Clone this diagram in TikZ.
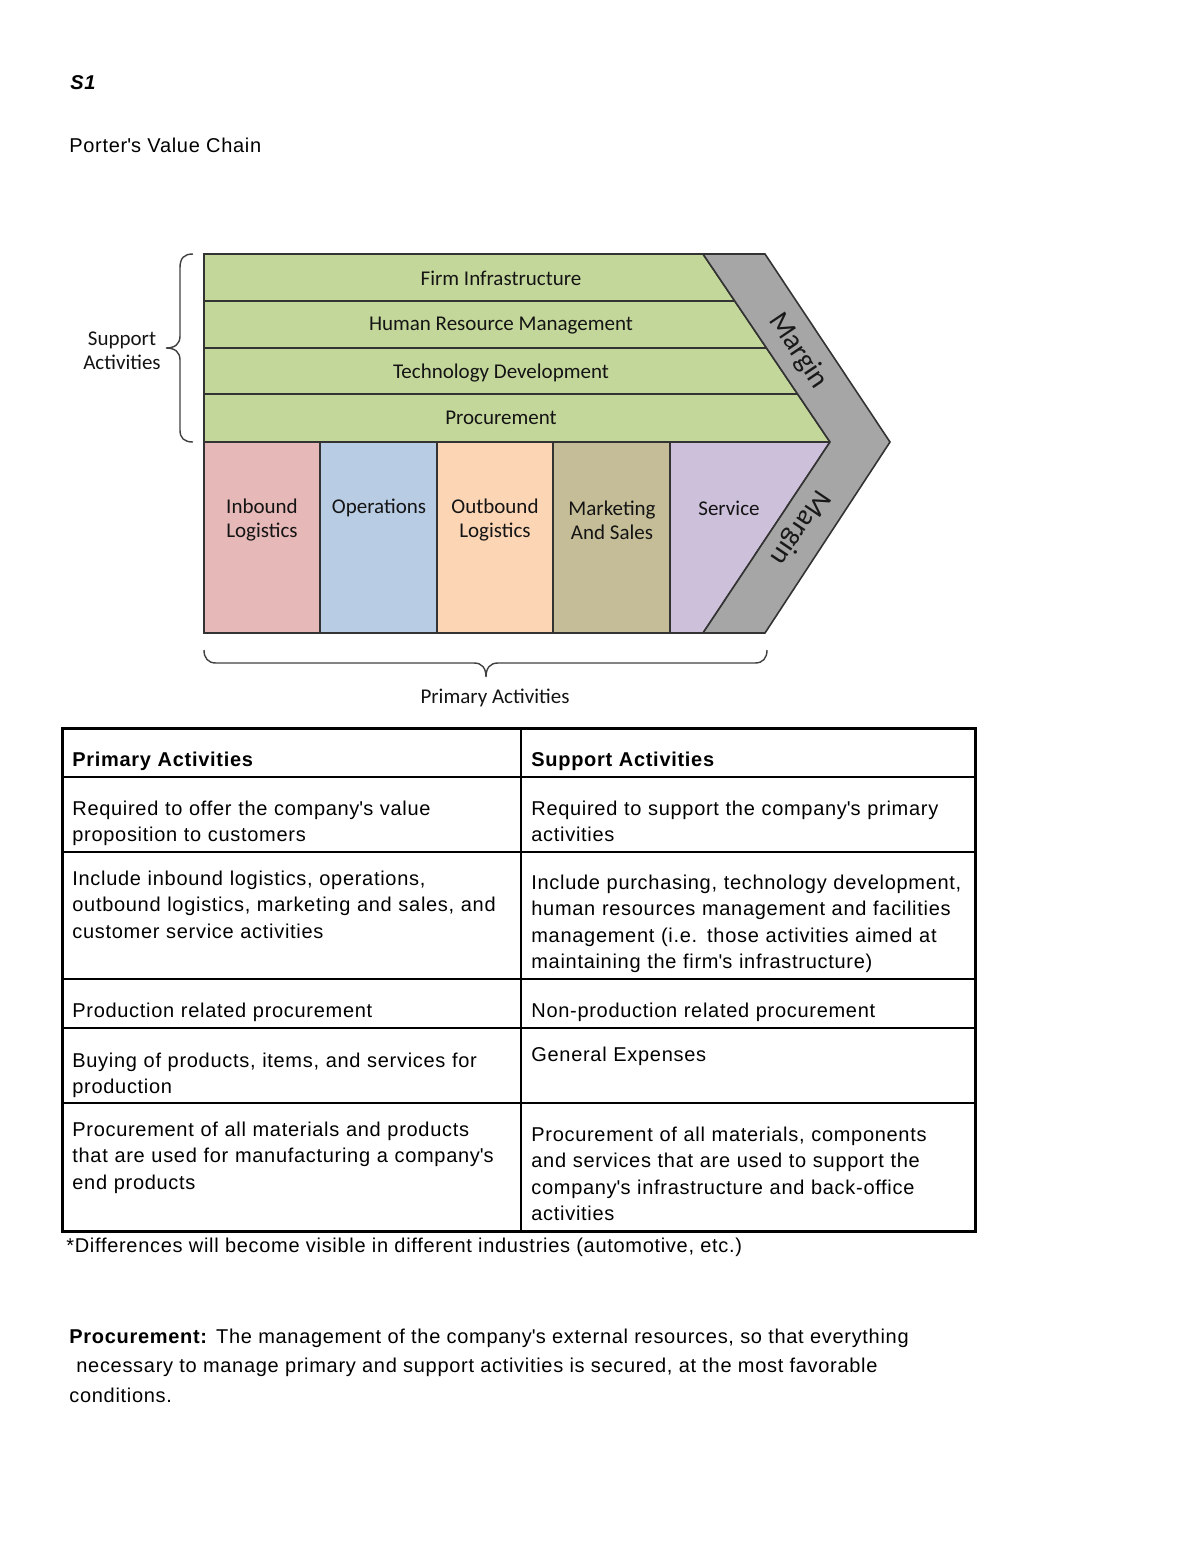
\documentclass[tikz,border=0pt]{standalone}
\usepackage{fontspec}
\setmainfont{Liberation Sans}[LetterSpace=3.5]
\newfontfamily\chartfont{Carlito}
\newcommand\apos{\textquotesingle}

\begin{document}
\begin{tikzpicture}[x=0.5pt,y=0.5pt,yscale=-1,xscale=1,
  bar/.style={draw=black!80,line width=0.8pt},
  chart/.style={font=\chartfont\fontsize{10.5}{12}\selectfont,text=black!92,inner sep=0.75pt,align=center},
  marginlbl/.style={font=\chartfont\fontsize{14.5}{16}\selectfont,text=black!90,inner sep=0pt},
  cell/.style={anchor=base west,inner sep=0pt,text width=240pt,align=left,font=\fontsize{10}{13.25}\selectfont},
  grid/.style={line width=1.1pt},
  para/.style={anchor=base west,inner sep=0pt,font=\fontsize{10}{12}\selectfont}]
\path[use as bounding box] (0,0) rectangle (1200,1553);

% Text Node
\draw (70,89) node [para] (sone) {\bfseries\itshape S1};
% Text Node
\draw (69,152) node [para] (title) {Porter\apos s Value Chain};

%Shape: Polygon (support activities)
\draw [bar,fill={rgb,255:red,196;green,215;blue,155}] (204,254) -- (703,254) -- (830,442) -- (204,442) -- cycle ;
%Straight Lines
\draw [bar] (204,301) -- (734.7,301) ;
\draw [bar] (204,348) -- (766.5,348) ;
\draw [bar] (204,394) -- (797.6,394) ;
%Shape: Rectangles (primary activities)
\draw [bar,fill={rgb,255:red,230;green,184;blue,183}] (204,442) rectangle (320,633) ;
\draw [bar,fill={rgb,255:red,184;green,204;blue,228}] (320,442) rectangle (437,633) ;
\draw [bar,fill={rgb,255:red,252;green,213;blue,180}] (437,442) rectangle (553,633) ;
\draw [bar,fill={rgb,255:red,196;green,189;blue,151}] (553,442) rectangle (670,633) ;
\draw [bar,fill={rgb,255:red,204;green,192;blue,218}] (670,442) -- (830,442) -- (703,633) -- (670,633) -- cycle ;
%Shape: Chevron (margin)
\draw [bar,fill={rgb,255:red,166;green,166;blue,166}] (703,254) -- (765,254) -- (890,442) -- (765,633) -- (703,633) -- (830,442) -- cycle ;

%Shape: Brace (support)
\draw [black!75,line width=0.7pt] (193,254) .. controls (184,254) and (180,258) .. (180,268) -- (180,336) .. controls (180,344) and (175,348) .. (166,348) .. controls (175,348) and (180,352) .. (180,360) -- (180,430) .. controls (180,438) and (184,442) .. (193,442) ;
%Shape: Brace (primary)
\draw [black!75,line width=0.7pt] (204,650) .. controls (204,658) and (208,663) .. (216,663) -- (474,663) .. controls (482,663) and (486,668) .. (486,677) .. controls (486,668) and (490,663) .. (498,663) -- (755,663) .. controls (763,663) and (767,658) .. (767,650) ;

% Text Node
\draw (501,278) node [chart] (firm) {Firm Infrastructure};
% Text Node
\draw (501,326) node [chart] (hrm) {Human Resource Management};
% Text Node
\draw (501,373) node [chart] (tech) {Technology Development};
% Text Node
\draw (501,418) node [chart] (proc) {Procurement};
% Text Node
\draw (262,520) node [chart] (inbound) {Inbound\\Logistics};
% Text Node
\draw (379,508) node [chart] (ops) {Operations};
% Text Node
\draw (495,520) node [chart] (outbound) {Outbound\\Logistics};
% Text Node
\draw (612,520) node [chart] (sales) {Marketing\\And Sales};
% Text Node
\draw (729,508) node [chart] (service) {Service};
% Text Node
\draw (798,351) node [marginlbl,rotate=-56] (mtop) {Margin};
% Text Node
\draw (800,527) node [marginlbl,rotate=-124] (mbot) {Margin};
% Text Node
\draw (122,351) node [chart] (supp) {Support\\Activities};
% Text Node
\draw (495,698) node [chart] (prim) {Primary Activities};

%Shape: Table
\draw [line width=1.5pt] (62,728) rectangle (975,1231) ;
\draw [grid] (62,777) -- (975,777) ;
\draw [grid] (62,852) -- (975,852) ;
\draw [grid] (62,979) -- (975,979) ;
\draw [grid] (62,1028) -- (975,1028) ;
\draw [grid] (62,1103) -- (975,1103) ;
\draw [grid] (521,728) -- (521,1231) ;

% Text Node
\draw (72,766) node [cell] (pahead) {\bfseries Primary Activities};
% Text Node
\draw (531,766) node [cell] (sahead) {\bfseries Support Activities};
% Text Node
\draw (72,815) node [cell] (pareq) {Required to offer the company\apos s value\\proposition to customers};
% Text Node
\draw (531,815) node [cell] (sareq) {Required to support the company\apos s primary\\activities};
% Text Node
\draw (72,885) node [cell] (painc) {Include inbound logistics, operations,\\outbound logistics, marketing and sales, and\\customer service activities};
% Text Node
\draw (531,889) node [cell] (sainc) {Include purchasing, technology development,\\human resources management and facilities\\management (i.e. those activities aimed at\\maintaining the firm\apos s infrastructure)};
% Text Node
\draw (72,1017) node [cell] (paprod) {Production related procurement};
% Text Node
\draw (531,1017) node [cell] (saprod) {Non-production related procurement};
% Text Node
\draw (72,1067) node [cell] (pabuy) {Buying of products, items, and services for\\production};
% Text Node
\draw (531,1061) node [cell] (sagen) {General Expenses};
% Text Node
\draw (72,1136) node [cell] (paall) {Procurement of all materials and products\\that are used for manufacturing a company\apos s\\end products};
% Text Node
\draw (531,1141) node [cell] (saall) {Procurement of all materials, components\\and services that are used to support the\\company\apos s infrastructure and back-office\\activities};

% Text Node
\draw (66,1252) node [para] (note) {*Differences will become visible in different industries (automotive, etc.)};
% Text Node
\draw (69,1343) node [para] (defa) {\textbf{Procurement:} The management of the company\apos s external resources, so that everything};
% Text Node
\draw (76,1372.5) node [para] (defb) {necessary to manage primary and support activities is secured, at the most favorable};
% Text Node
\draw (69,1402) node [para] (defc) {conditions.};

\end{tikzpicture}
\end{document}
